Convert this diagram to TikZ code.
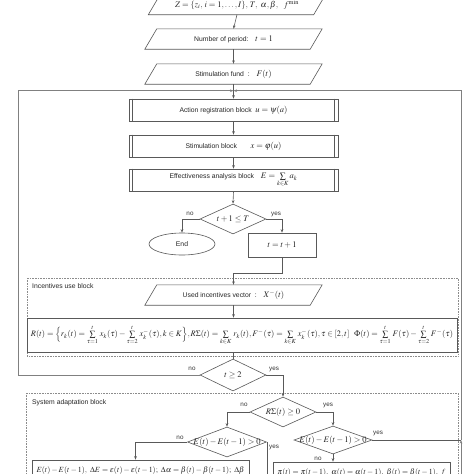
\documentclass[tikz,border=0pt]{standalone}
\usepackage{mathptmx}
\usepackage[no-math]{fontspec}
\setmainfont{Liberation Sans}
\usetikzlibrary{shapes.geometric,arrows.meta}
\newcommand{\mth}[1]{{\fontsize{8.5}{9.5}\selectfont$#1$}}
\newcommand{\lsum}[2]{\mathop{\textstyle\sum}\limits_{#1}^{#2}\,}
\begin{document}
\begin{tikzpicture}[x=1pt,y=-1pt,
  line/.style={draw=black!65, line width=0.6pt},
  loop/.style={draw=black!50, line width=0.6pt},
  arr/.style={line, -{Stealth[length=3.5pt,width=2.6pt]}},
  larr/.style={loop, -{Stealth[length=3.5pt,width=2.6pt]}},
  lbl/.style={font=\fontsize{6.8}{8}\selectfont, text=black!85, inner sep=0pt},
  yn/.style={font=\fontsize{6.3}{7}\selectfont, text=black!80, inner sep=0pt},
  para/.style={lbl, minimum width=165pt, minimum height=20pt},
  proc/.style={lbl, draw=black!65, line width=0.6pt, minimum width=209pt, minimum height=22pt},
  dia/.style={diamond, draw=black!65, line width=0.6pt, inner sep=0pt},
  plain/.style={lbl, draw=black!65, line width=0.6pt},
  dots/.style={draw=black!45, densely dotted, line width=0.6pt},
]
\useasboundingbox[fill=white] (0,0) rectangle (474,474);

% top parallelograms
\node[para] (p0) at (237,4.5) {\mth{Z=\{z_i,\, i=1,\dots,I\},\, T,\ \alpha,\beta,\ \ f^{\min}}};
\node[para] (p1) at (233.5,39) {Number of period:\quad\mth{t=1}};
\node[para] (p2) at (233.5,74) {Stimulation fund \ :\quad\mth{F(t)}};

% process blocks
\node[proc] (b1) at (233.5,110) {Action registration block\ \ \mth{u=\psi(a)}};
\node[proc] (b2) at (233.5,146) {Stimulation block\qquad\mth{x=\varphi(u)}};
\node[proc] (b3) at (233.5,180) {Effectiveness analysis block\quad\mth{E=\sum\limits_{k\in K}a_k}};
\foreach \n in {b1,b2,b3}{
  \draw[line] ([xshift=4pt]\n.north west) -- ([xshift=4pt]\n.south west);
  \draw[line] ([xshift=-4pt]\n.north east) -- ([xshift=-4pt]\n.south east);
}

% decision t+1<=T
\node[dia, minimum width=66pt, minimum height=30pt] (d1) at (233,219) {};
\node[lbl] (d1t) at (d1) {\mth{t+1\le T}};
\node[plain, ellipse, minimum width=66pt, minimum height=22pt] (e) at (182,244) {End};
\node[plain, minimum width=68pt, minimum height=24pt] (inc) at (282,245) {\mth{t=t+1}};

% incentives use block
\draw[dots] (27,278) rectangle (458,356);
\node[lbl, anchor=west] (iub) at (32,286) {Incentives use block};
\node[para] (p3) at (233.5,295) {Used incentives vector \ :\quad\mth{X^{-}(t)}};
\node[plain, minimum width=430pt, minimum height=34pt] (fb) at (242,335) {\resizebox{422pt}{!}{$R(t)=\Bigl\{r_k(t)=\lsum{\tau=1}{t}x_k(\tau)-\lsum{\tau=2}{t}x_k^{-}(\tau), k\in K\Bigr\}, R\Sigma(t)=\lsum{k\in K}{}r_k(t), F^{-}(\tau)=\lsum{k\in K}{}x_k^{-}(\tau), \tau\in[2,t]\ \ \Phi(t)=\lsum{\tau=1}{t}F(\tau)-\lsum{\tau=2}{t}F^{-}(\tau)$}};

\foreach \n in {p0,p1,p2,p3}
  \draw[line] ([xshift=6pt]\n.north west) -- ([xshift=6pt]\n.north east)
    -- ([xshift=-6pt]\n.south east) -- ([xshift=-6pt]\n.south west) -- cycle;

% decision t>=2
\node[dia, minimum width=66pt, minimum height=32pt] (d2) at (233,375) {};
\node[lbl] (d2t) at (d2) {\mth{t\ge 2}};

% system adaptation block
\draw[dots] (26,393) rectangle (458,490);
\node[lbl, anchor=west] (sab) at (32,403) {System adaptation block};
\node[dia, minimum width=66pt, minimum height=30pt] (sd) at (283,412) {};
\node[lbl] (sdt) at (sd) {\mth{R\Sigma(t)\ge 0}};
\node[dia, minimum width=79pt, minimum height=30pt] (ld) at (227,442) {};
\node[lbl] (ldt) at (ld) {\mth{E(t)-E(t-1)>0}};
\node[dia, minimum width=78pt, minimum height=28pt] (rd) at (333,440) {};
\node[lbl] (rdt) at (rd) {\mth{E(t)-E(t-1)>0}};
\node[plain, minimum width=217pt, minimum height=30pt] (lb) at (140.5,475) {};
\node[lbl, anchor=north] (lbt) at (140.5,466) {\resizebox{208pt}{!}{\mth{E(t)-E(t-1),\ \Delta E=\varepsilon(t)-\varepsilon(t-1);\ \Delta\alpha=\beta(t)-\beta(t-1);\ \Delta\beta}}};
\node[plain, minimum width=177pt, minimum height=30pt] (rb) at (361.5,477) {};
\node[lbl, anchor=north] (rbt) at (361.5,468) {\resizebox{168pt}{!}{\mth{\pi(t)=\pi(t-1),\ \alpha(t)=\alpha(t-1),\ \beta(t)=\beta(t-1),\ f}}};

% coordinates for loops
\coordinate (top) at (233.5,90.7);
\coordinate (L1) at (18.5,375);
\coordinate (L2) at (18.5,90.7);
\coordinate (R0) at (461,490);
\coordinate (R1) at (461,440);
\coordinate (R2) at (461,90.7);
\coordinate (k1) at (282,273);
\coordinate (bot) at (0,490);

% main flow connectors
\draw[arr] (p0.south) -- (p1.north);
\draw[arr] (p1.south) -- (p2.north);
\draw[arr] (p2.south) -- (b1.north);
\draw[arr] (b1.south) -- (b2.north);
\draw[arr] (b2.south) -- (b3.north);
\draw[arr] (b3.south) -- (d1.north);
\draw[arr] (d1.west) -| (e.north);
\draw[arr] (d1.east) -| (inc.north);
\draw[arr] (inc.south) -- (k1) -| (p3.north);
\draw[arr] (p3.south) -- (p3.south |- fb.north);
\draw[line] (d2.north |- fb.south) -- (d2.north);
\draw[larr] (d2.west) -- (L1) -- (L2) -- (top);
\draw[arr] (d2.east) -| (sd.north);
\draw[arr] (sd.west) -| (ld.north);
\draw[arr] (sd.east) -| (rd.north);
\draw[arr] (ld.west) -| ([xshift=-5pt]lb.north);
\draw[line] (ld.east) -- (ld.east |- bot);
\draw[arr] (rd.south) -- (rd.south |- rb.north);
\draw[line] (rd.east) -- (R1);
\draw[larr] (R0) -- (R1);
\draw[larr] (R1) -- (R2) -- (top);

% yes / no labels
\node[yn] (n1) at (190,214) {no};
\node[yn] (y1) at (276,214) {yes};
\node[yn] (n2) at (192,369) {no};
\node[yn] (y2) at (274,369) {yes};
\node[yn] (n3) at (244,405) {no};
\node[yn] (y3) at (328,405) {yes};
\node[yn] (n4) at (180,438) {no};
\node[yn] (y4) at (274,447) {yes};
\node[yn] (n5) at (318,459) {no};
\node[yn] (y5) at (378,433) {yes};
\end{tikzpicture}
\end{document}
